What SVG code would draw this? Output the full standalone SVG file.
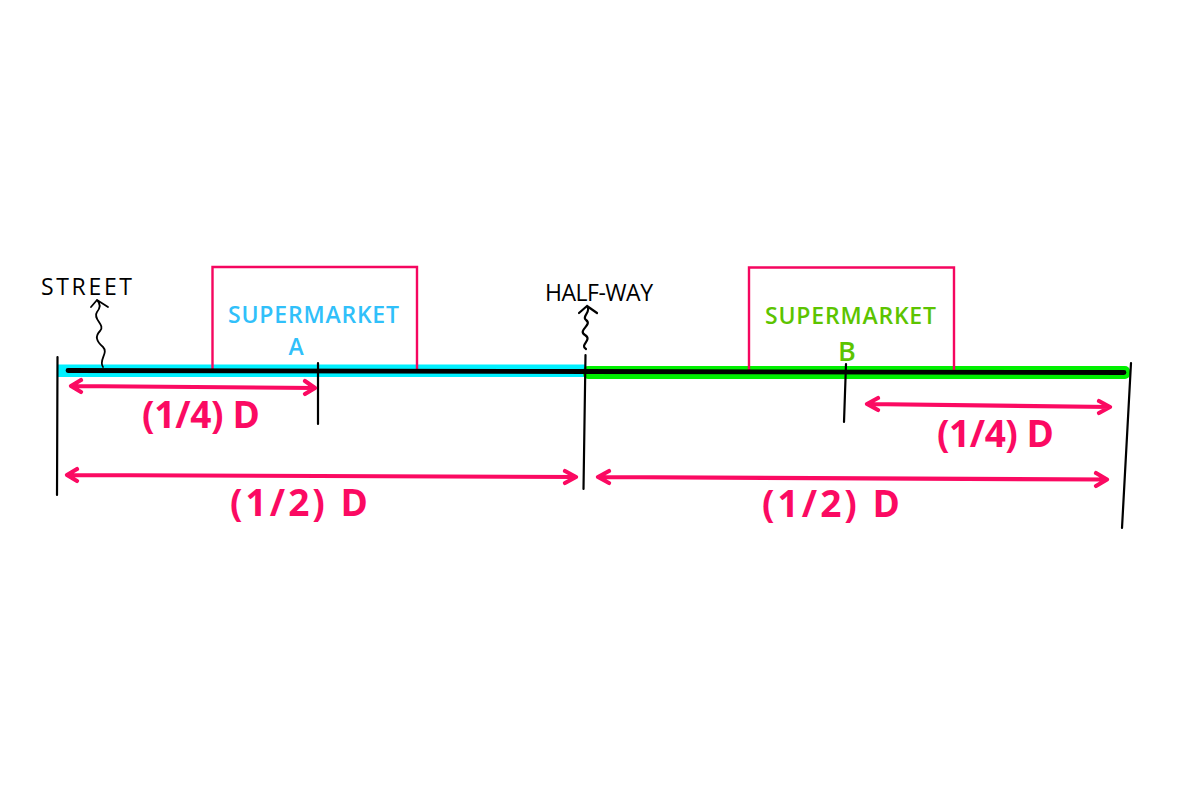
<svg xmlns="http://www.w3.org/2000/svg" width="1200" height="793" viewBox="0 0 1200 793">
<style>
.box{fill:none;stroke:#f5065f;stroke-width:2.4}
.tick{fill:none;stroke:#000;stroke-width:2.2;stroke-linecap:round}
.road{fill:none;stroke:#000;stroke-width:4.8;stroke-linecap:round}
.dim{fill:none;stroke:#fb0a62;stroke-width:4.2;stroke-linecap:round;stroke-linejoin:round}
.wave{fill:none;stroke:#000;stroke-width:1.8;stroke-linecap:round;stroke-linejoin:round}
text{font-family:"Open Sans","Liberation Sans",sans-serif}
.note{font-size:23px;fill:#000;font-weight:500}
.a{font-size:23px;fill:#30c0fa;font-weight:600}
.b{font-size:23px;fill:#5cc400;font-weight:600}
.bb{font-size:27px;fill:#5cc400;font-weight:600}
.m{font-size:37px;fill:#fb0a62;font-weight:700}
</style>
<g id="street-bands">
<rect x="58" y="364.5" width="527" height="12.5" fill="#00f0ff"/>
<rect x="583" y="366" width="547" height="13" rx="5" fill="#00f000"/>
</g>
<g id="supermarket-a">
<path class="box" d="M212.500 370V267H417V370"/>
<text class="a" x="228" y="323" textLength="171" lengthAdjust="spacing">SUPERMARKET</text>
<text class="a" x="296" y="355" text-anchor="middle">A</text>
</g>
<g id="supermarket-b">
<path class="box" d="M749 371V267.500H954V371"/>
<text class="b" x="765" y="324" textLength="171" lengthAdjust="spacing">SUPERMARKET</text>
<text class="bb" x="847" y="361" text-anchor="middle">B</text>
</g>
<g id="street-label"><text class="note" x="41" y="295" textLength="91" lengthAdjust="spacing">STREET</text></g>
<g id="halfway-label"><text class="note" x="545" y="301" textLength="108" lengthAdjust="spacing">HALF-WAY</text></g>
<g id="dim-labels">
<text class="m" x="142" y="428" textLength="118" lengthAdjust="spacing">(1/4) D</text>
<text class="m" x="230" y="516" textLength="138" lengthAdjust="spacing">(1/2) D</text>
<text class="m" x="937" y="447" textLength="117" lengthAdjust="spacing">(1/4) D</text>
<text class="m" x="762" y="517" textLength="138" lengthAdjust="spacing">(1/2) D</text>
</g>
<g id="connectors">
<path class="road" d="M68 370.500L585 371.500L1124 372.500"/>
<path class="tick" d="M57.500 357L57 495M318 363V424M585.500 355L583.500 489M846 364L844 422M1131 363L1122 528"/>
<path class="wave" d="M103 367C98 360 109 353 103 347C96 341 95 336 100 331C106 325 92 319 97 312C101 307 100 303 97 300M91 307L97 300L108 307"/>
<path class="wave" d="M586 349C579 345 593 340 585 335C577 330 593 325 586 320C581 316 592 312 587 306M579 313L587 306L597 313" style="stroke-width:2.2"/>
<path class="dim" d="M71 386L315 388M81 380L71 386L81 392M305 381L315 388L305 394"/>
<path class="dim" d="M67 475L576 477M77 469L67 475L77 481M565 471L576 477L565 483"/>
<path class="dim" d="M867 404L1110 407M878 398L867 404L878 410M1099 401L1110 407L1099 413"/>
<path class="dim" d="M598 477L1107 479.500M609 471L598 477L609 483M1096 473L1107 479.500L1096 486"/>
</g>
</svg>
